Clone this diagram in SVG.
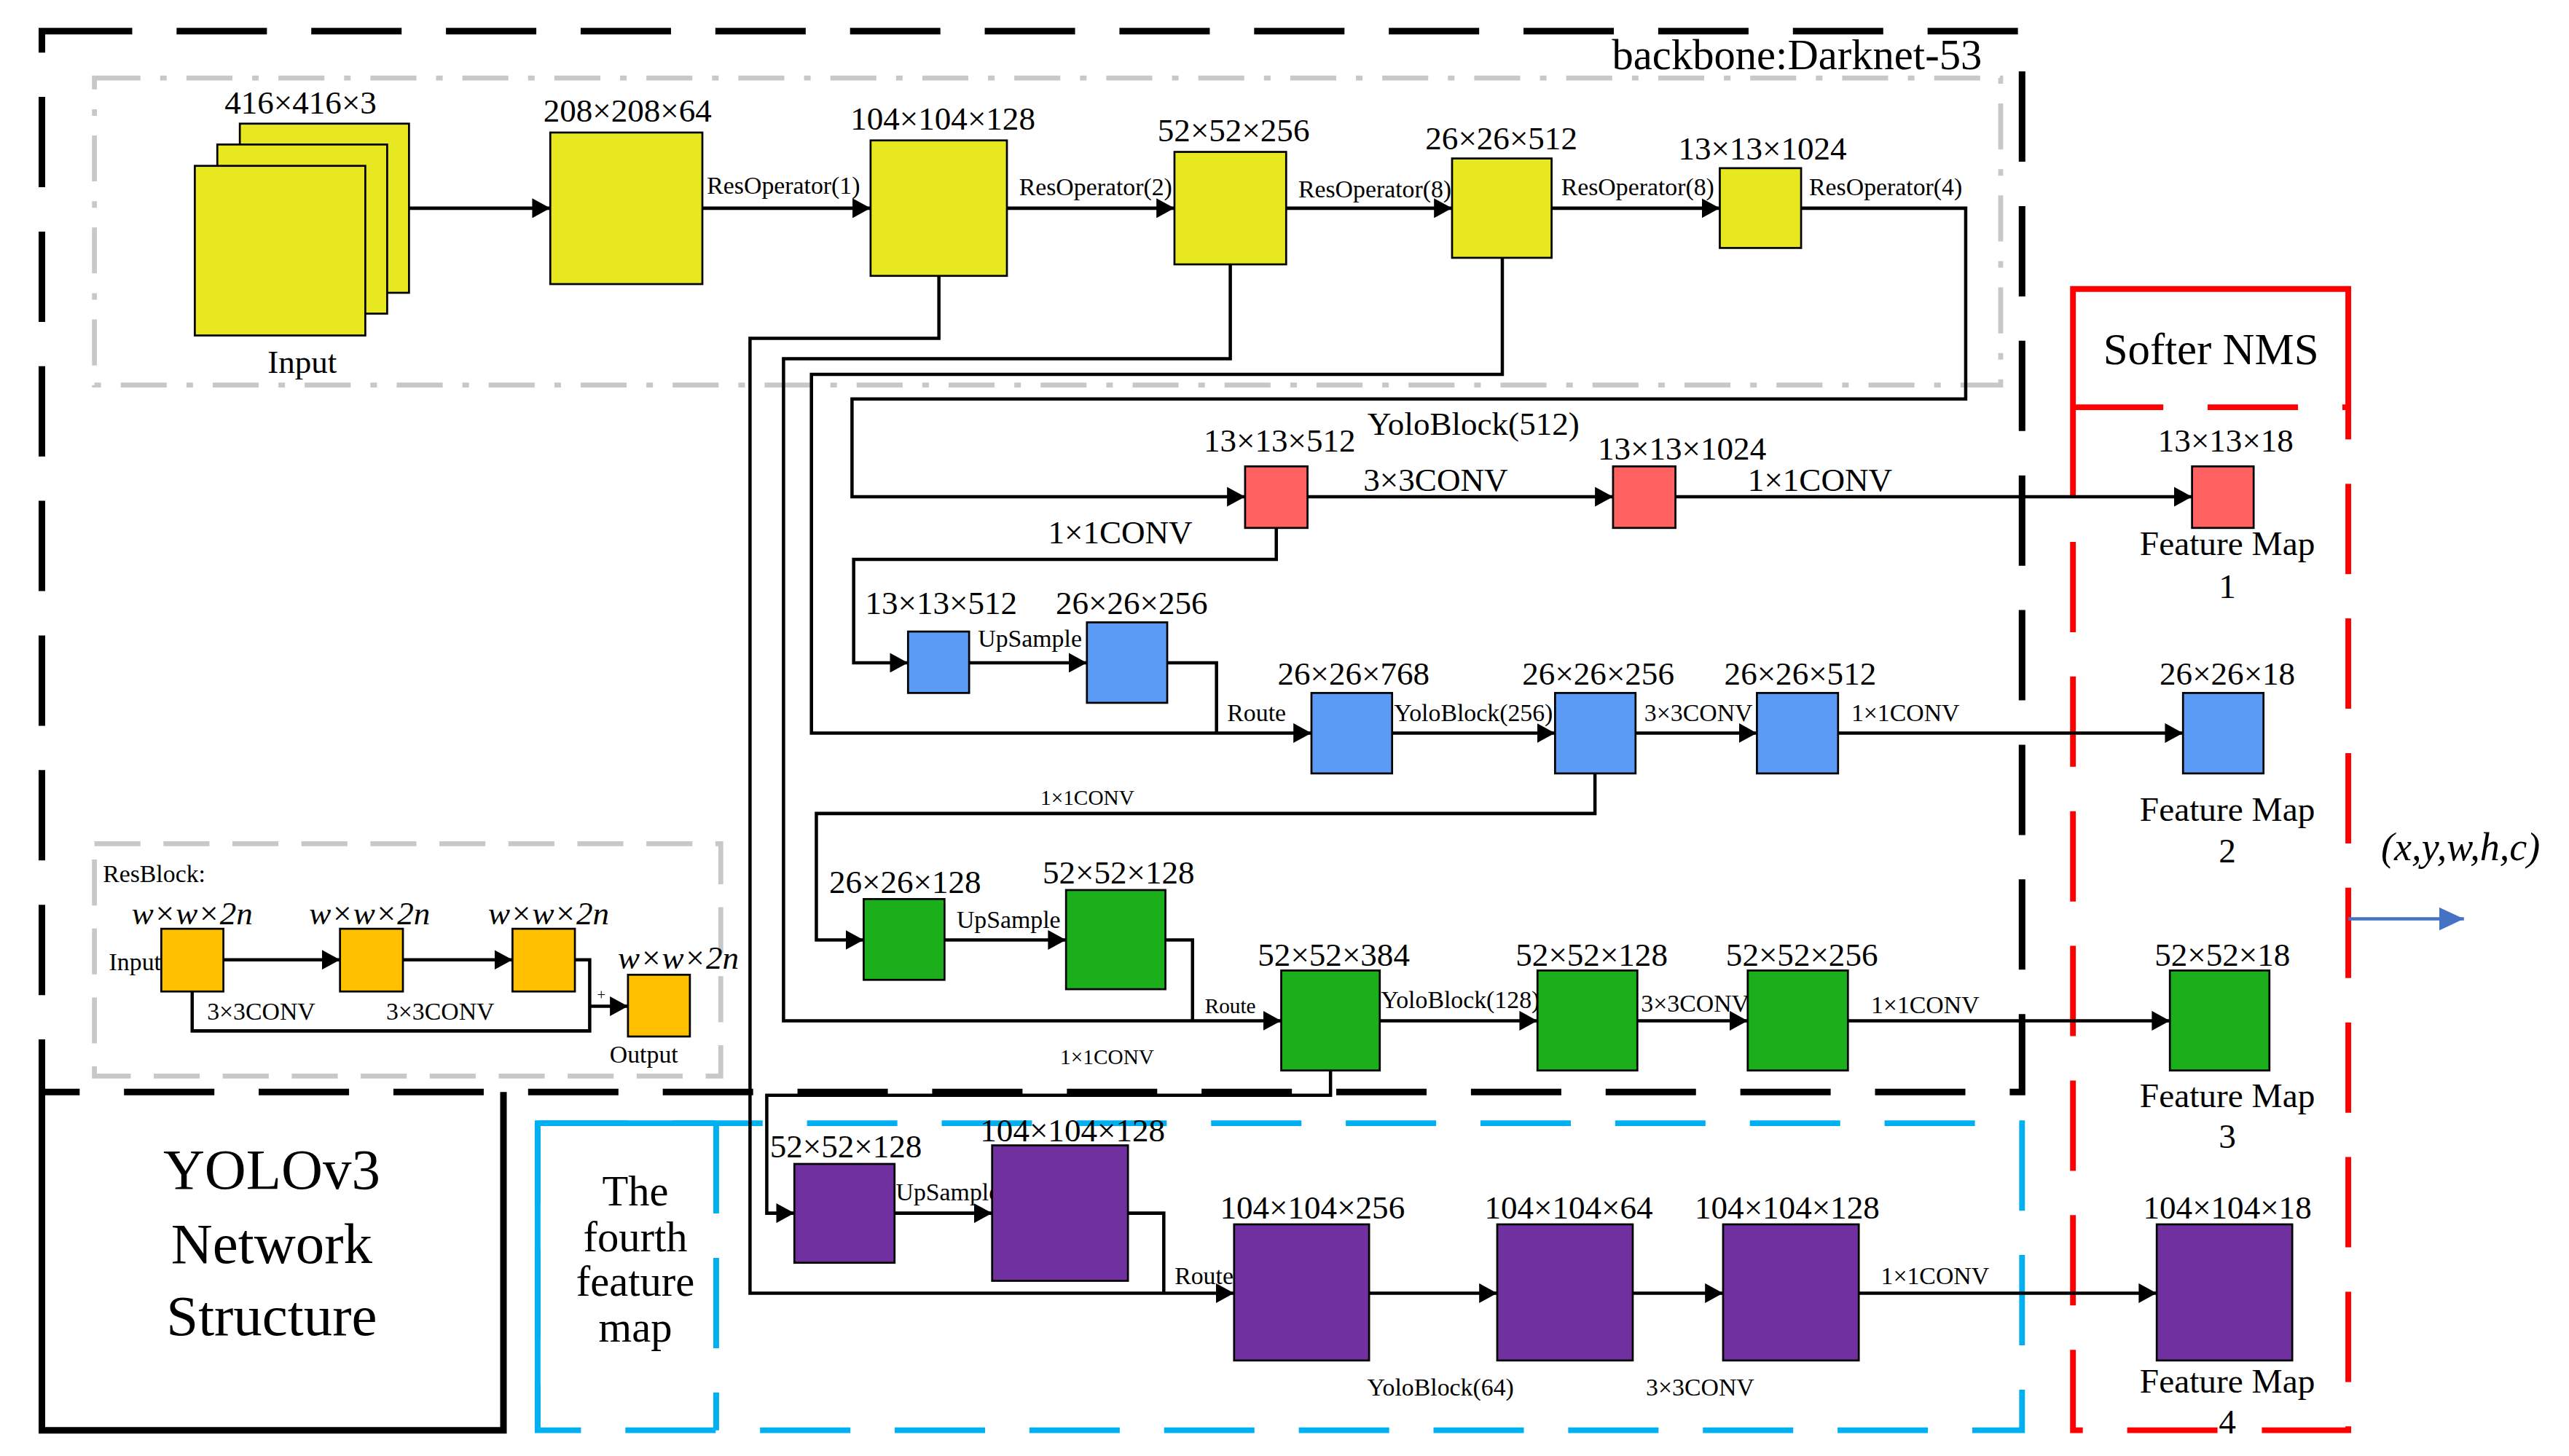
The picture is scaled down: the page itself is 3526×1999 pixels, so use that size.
<svg xmlns="http://www.w3.org/2000/svg" width="3526" height="1999" viewBox="0 0 3526 1999">
<style>
text{font-family:"Liberation Serif","Times New Roman",serif;fill:#000;text-anchor:middle}
.d{font-size:20px}.s{font-size:15px}.xs{font-size:13px}.fm{font-size:21px}.it{font-style:italic}
.b{stroke:#000;stroke-width:1.2}
.y{fill:#E8E820}.r{fill:#FF6060}.bl{fill:#5B9BF5}.g{fill:#1BAF1B}.p{fill:#7030A0}.o{fill:#FFC000}
.c{fill:none;stroke:#000;stroke-width:2}
.ca{fill:none;stroke:#000;stroke-width:2;marker-end:url(#ah)}
</style>
<defs>
<marker id="ah" markerUnits="userSpaceOnUse" markerWidth="12" markerHeight="12" refX="11" refY="6" orient="auto"><path d="M0,0 L11,6 L0,12 Z" fill="#000"/></marker>
<marker id="ab" markerUnits="userSpaceOnUse" markerWidth="16" markerHeight="14" refX="15" refY="7" orient="auto"><path d="M0,0 L15,7 L0,14 Z" fill="#4472C4"/></marker>
</defs>
<g transform="scale(2.2545)">
<g id="frames">
<rect x="25.5" y="19" width="1205.5" height="646" fill="none" stroke="#000" stroke-width="4" stroke-dasharray="55 27"/>
<rect x="57.5" y="47.5" width="1160.5" height="187" fill="none" stroke="#C8C8C8" stroke-width="3" stroke-dasharray="28 12 4 12"/>
<path d="M25.5,665 V871 H306.5 V665" fill="none" stroke="#000" stroke-width="4"/>
<rect x="57.5" y="513.8" width="381.3" height="141.5" fill="none" stroke="#C8C8C8" stroke-width="3" stroke-dasharray="28 14"/>
<rect x="327.3" y="684" width="903.7" height="187" fill="none" stroke="#00B0F0" stroke-width="3.5" stroke-dasharray="55 27"/>
<path d="M327.3,684 V871 M327.3,684 H436" fill="none" stroke="#00B0F0" stroke-width="3.5"/>
<path d="M436,684 V871" fill="none" stroke="#00B0F0" stroke-width="3.5" stroke-dasharray="55 27"/>
<path d="M1262,248 V176 H1429.6 V248" fill="none" stroke="#F00" stroke-width="3.5"/>
<path d="M1262,248 H1429.6 M1262,248 V871 H1429.6 V248" fill="none" stroke="#F00" stroke-width="3.5" stroke-dasharray="55 27"/>
<path d="M1429.6,559.6 H1500" fill="none" stroke="#4472C4" stroke-width="2" marker-end="url(#ab)"/>
</g>
<g id="labels">
<text x="1094" y="42" style="font-size:26px">backbone:Darknet-53</text>
<text x="1346" y="222" style="font-size:27px">Softer NMS</text>
<text x="165.4" y="724" style="font-size:35px">YOLOv3</text>
<text x="165.4" y="769" style="font-size:35px">Network</text>
<text x="165.4" y="813" style="font-size:35px">Structure</text>
<text x="386.8" y="734" style="font-size:26px">The</text>
<text x="386.8" y="762" style="font-size:26px">fourth</text>
<text x="386.8" y="789" style="font-size:26px">feature</text>
<text x="386.8" y="817" style="font-size:26px">map</text>
<text x="1498" y="524" class="it" style="font-size:24px">(x,y,w,h,c)</text>
</g>
<g id="connectors">
<path class="ca" d="M249,126.8 H335"/>
<path class="ca" d="M427.6,126.8 H530"/>
<path class="ca" d="M613,126.8 H715"/>
<path class="ca" d="M783,126.8 H884"/>
<path class="ca" d="M944.6,126.8 H1047"/>
<path class="ca" d="M1096.5,126.8 H1196.7 V243 H518.7 V302.5 H758"/>
<path class="ca" d="M571.6,168 V206 H456.6 V787.5 H751.3"/>
<path class="ca" d="M749,161 V218.5 H477 V621.6 H780"/>
<path class="ca" d="M914.6,157 V228 H494 V446.4 H798.4"/>
<path class="ca" d="M796,302.5 H982"/>
<path class="ca" d="M1020,302.5 H1334.5"/>
<path class="ca" d="M777,321.5 V340.7 H519.7 V403.6 H552.8"/>
<path class="ca" d="M590,403.6 H661.7"/>
<path class="c" d="M710.6,403.6 H740.6 V446.4"/>
<path class="ca" d="M847.5,446.4 H946.7"/>
<path class="ca" d="M995.7,446.4 H1069.6"/>
<path class="ca" d="M1119,446.4 H1329"/>
<path class="ca" d="M971,471 V495.4 H497 V572.4 H525.8"/>
<path class="ca" d="M575,572.4 H649"/>
<path class="c" d="M709.5,572.4 H726 V621.6"/>
<path class="ca" d="M840,621.6 H936"/>
<path class="ca" d="M996.8,621.6 H1064"/>
<path class="ca" d="M1125,621.6 H1321"/>
<path class="ca" d="M810,651.9 V667 H466.8 V738.8 H483.6"/>
<path class="ca" d="M544.6,738.8 H604"/>
<path class="c" d="M686.7,738.8 H708.5 V787.5"/>
<path class="ca" d="M833.5,787.5 H911.5"/>
<path class="ca" d="M994,787.5 H1049"/>
<path class="ca" d="M1131.6,787.5 H1313"/>
<path class="ca" d="M136,584.5 H207"/>
<path class="ca" d="M245.3,584.5 H312"/>
<path class="c" d="M350,584.5 H359 V627.8 H117 V603.8"/>
<path class="ca" d="M359,612.8 H382.3"/>
</g>
<g id="edge-labels">
<text x="477" y="118" class="s">ResOperator(1)</text>
<text x="667" y="119" class="s">ResOperator(2)</text>
<text x="837" y="120" class="s">ResOperator(8)</text>
<text x="997" y="119" class="s">ResOperator(8)</text>
<text x="1148" y="119" class="s">ResOperator(4)</text>
<text x="897" y="265" class="d">YoloBlock(512)</text>
<text x="874" y="299" class="d">3×3CONV</text>
<text x="1108" y="299" class="d">1×1CONV</text>
<text x="682" y="331" class="d">1×1CONV</text>
<text x="627" y="394" class="s">UpSample</text>
<text x="765" y="439" class="s">Route</text>
<text x="897" y="439" class="s">YoloBlock(256)</text>
<text x="1034" y="439" class="s">3×3CONV</text>
<text x="1160" y="439" class="s">1×1CONV</text>
<text x="662" y="490" class="xs">1×1CONV</text>
<text x="614" y="565" class="s">UpSample</text>
<text x="749" y="617" class="xs">Route</text>
<text x="889" y="614" class="s">YoloBlock(128)</text>
<text x="1032" y="616" class="s">3×3CONV</text>
<text x="1172" y="617" class="s">1×1CONV</text>
<text x="674" y="648" class="xs">1×1CONV</text>
<text x="577" y="731" class="s">UpSample</text>
<text x="733" y="782" class="s">Route</text>
<text x="1178" y="782" class="s">1×1CONV</text>
<text x="877" y="850" class="s">YoloBlock(64)</text>
<text x="1035" y="850" class="s">3×3CONV</text>
<text x="62.6" y="537" class="s" style="text-anchor:start">ResBlock:</text>
<text x="98" y="591" class="s" style="text-anchor:end">Input</text>
<text x="159" y="621" class="s">3×3CONV</text>
<text x="268" y="621" class="s">3×3CONV</text>
<text x="392" y="647" class="s">Output</text>
<text x="366" y="609" style="font-size:9px">+</text>
</g>
<g id="n-input"><rect x="146" y="75.3" width="103" height="103" class="y b"/><rect x="132.3" y="88" width="103.4" height="103" class="y b"/><rect x="118.6" y="101" width="103.8" height="103.3" class="y b"/><text x="183" y="69" class="d">416×416×3</text><text x="184" y="227" class="d">Input</text></g>
<g id="n-208"><rect x="335" y="80.7" width="92.6" height="92.3" class="y b"/><text x="382" y="74" class="d">208×208×64</text></g>
<g id="n-104"><rect x="530" y="85.5" width="83" height="82.5" class="y b"/><text x="574" y="79" class="d">104×104×128</text></g>
<g id="n-52"><rect x="715" y="92.5" width="68" height="68.5" class="y b"/><text x="751" y="86" class="d">52×52×256</text></g>
<g id="n-26"><rect x="884" y="96.5" width="60.6" height="60.5" class="y b"/><text x="914" y="91" class="d">26×26×512</text></g>
<g id="n-13"><rect x="1047" y="102.4" width="49.5" height="48.6" class="y b"/><text x="1073" y="97" class="d">13×13×1024</text></g>
<g id="n-r1"><rect x="758" y="284" width="38" height="37.5" class="r b"/><text x="779" y="275" class="d">13×13×512</text></g>
<g id="n-r2"><rect x="982" y="284" width="38" height="37.5" class="r b"/><text x="1024" y="280" class="d">13×13×1024</text></g>
<g id="n-fm1"><rect x="1334.5" y="284" width="37.5" height="37.5" class="r b"/><text x="1355" y="275" class="d">13×13×18</text><text x="1356" y="338" class="fm">Feature Map</text><text x="1356" y="364" class="fm">1</text></g>
<g id="n-b1"><rect x="552.8" y="384.6" width="37.2" height="37.4" class="bl b"/><text x="573" y="374" class="d">13×13×512</text></g>
<g id="n-b2"><rect x="661.7" y="379" width="48.9" height="49" class="bl b"/><text x="689" y="374" class="d">26×26×256</text></g>
<g id="n-b3"><rect x="798.4" y="422" width="49.1" height="49" class="bl b"/><text x="824" y="417" class="d">26×26×768</text></g>
<g id="n-b4"><rect x="946.7" y="422" width="49" height="49" class="bl b"/><text x="973" y="417" class="d">26×26×256</text></g>
<g id="n-b5"><rect x="1069.6" y="422" width="49.4" height="49" class="bl b"/><text x="1096" y="417" class="d">26×26×512</text></g>
<g id="n-fm2"><rect x="1329" y="422" width="49" height="49" class="bl b"/><text x="1356" y="417" class="d">26×26×18</text><text x="1356" y="500" class="fm">Feature Map</text><text x="1356" y="525" class="fm">2</text></g>
<g id="n-g1"><rect x="525.8" y="547.5" width="49.2" height="49.2" class="g b"/><text x="551" y="544" class="d">26×26×128</text></g>
<g id="n-g2"><rect x="649" y="542" width="60.5" height="60.4" class="g b"/><text x="681" y="538" class="d">52×52×128</text></g>
<g id="n-g3"><rect x="780" y="591" width="60" height="60.9" class="g b"/><text x="812" y="588" class="d">52×52×384</text></g>
<g id="n-g4"><rect x="936" y="591" width="60.8" height="60.9" class="g b"/><text x="969" y="588" class="d">52×52×128</text></g>
<g id="n-g5"><rect x="1064" y="591" width="61" height="60.9" class="g b"/><text x="1097" y="588" class="d">52×52×256</text></g>
<g id="n-fm3"><rect x="1321" y="591" width="60.6" height="60.9" class="g b"/><text x="1353" y="588" class="d">52×52×18</text><text x="1356" y="674" class="fm">Feature Map</text><text x="1356" y="699" class="fm">3</text></g>
<g id="n-p1"><rect x="483.6" y="708.8" width="61" height="60.2" class="p b"/><text x="515" y="705" class="d">52×52×128</text></g>
<g id="n-p2"><rect x="604" y="697.5" width="82.7" height="82.5" class="p b"/><text x="653" y="695" class="d">104×104×128</text></g>
<g id="n-p3"><rect x="751.3" y="745.6" width="82.2" height="82.9" class="p b"/><text x="799" y="742" class="d">104×104×256</text></g>
<g id="n-p4"><rect x="911.5" y="745.6" width="82.5" height="82.9" class="p b"/><text x="955" y="742" class="d">104×104×64</text></g>
<g id="n-p5"><rect x="1049" y="745.6" width="82.6" height="82.9" class="p b"/><text x="1088" y="742" class="d">104×104×128</text></g>
<g id="n-fm4"><rect x="1313" y="745.6" width="82.5" height="82.9" class="p b"/><text x="1356" y="742" class="d">104×104×18</text><text x="1356" y="848" class="fm">Feature Map</text><text x="1356" y="873" class="fm">4</text></g>
<g id="rb1"><rect x="98.2" y="565.6" width="37.8" height="38.2" class="o b"/><text x="117" y="563" class="d it">w×w×2n</text></g>
<g id="rb2"><rect x="207" y="565.6" width="38.3" height="38.2" class="o b"/><text x="225" y="563" class="d it">w×w×2n</text></g>
<g id="rb3"><rect x="312" y="565.6" width="38" height="38.2" class="o b"/><text x="334" y="563" class="d it">w×w×2n</text></g>
<g id="rb4"><rect x="382.3" y="593.6" width="37.7" height="37.6" class="o b"/><text x="413" y="590" class="d it">w×w×2n</text></g>
</g>
</svg>
